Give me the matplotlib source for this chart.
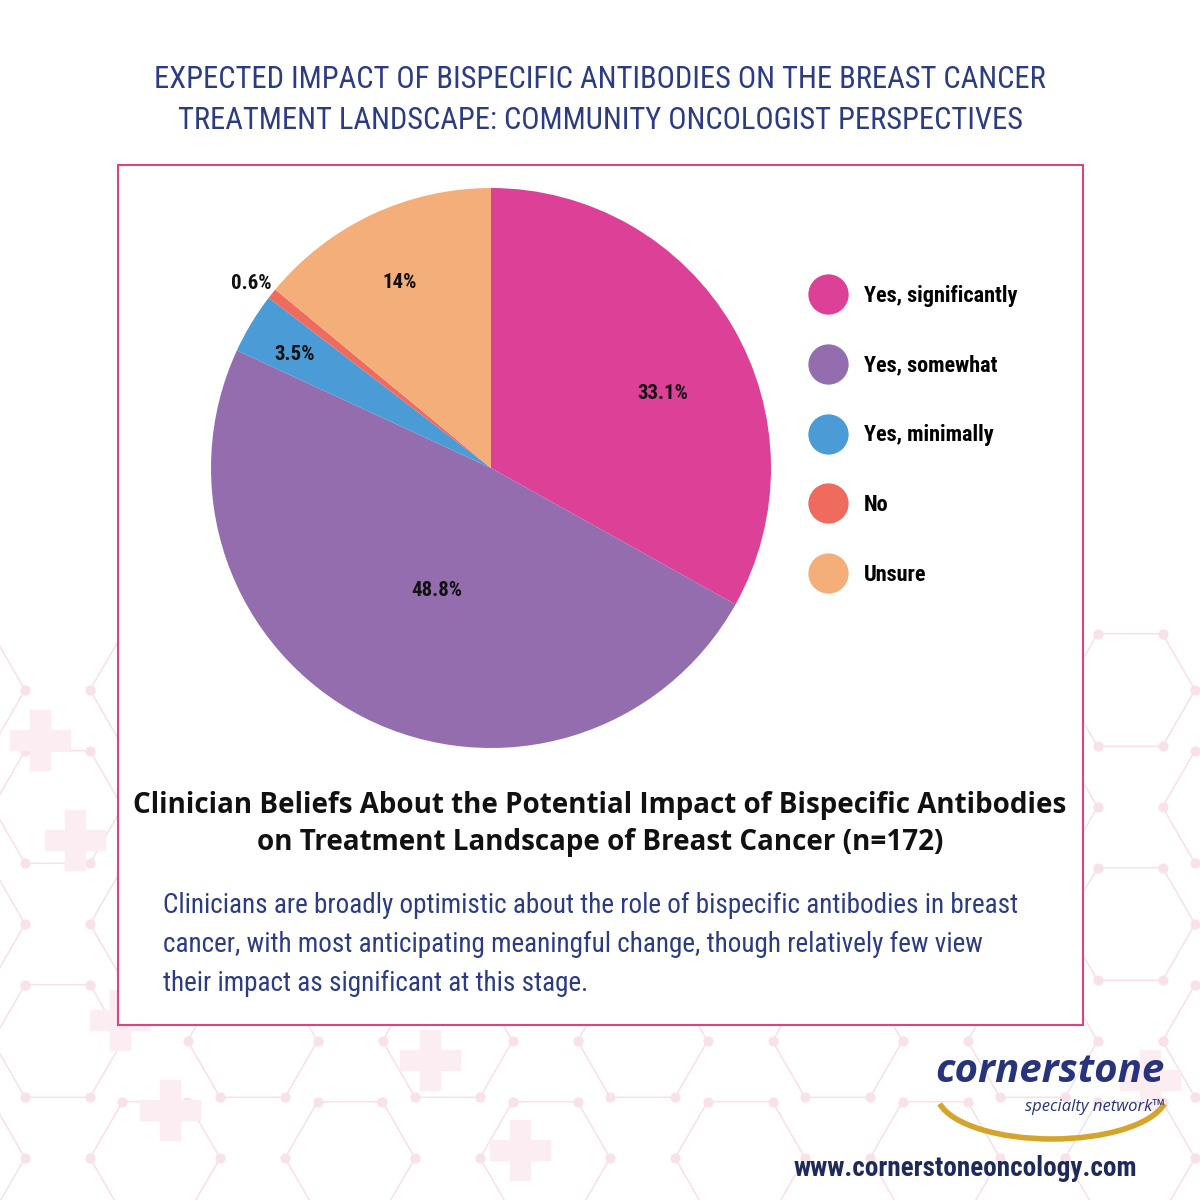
import numpy as np
import matplotlib
matplotlib.use("Agg")
import matplotlib.pyplot as plt
from matplotlib import font_manager
from matplotlib.lines import Line2D
from matplotlib.patches import Rectangle, Arc

# data
categories = ["Yes, significantly", "Yes, somewhat", "Yes, minimally", "No", "Unsure"]
shares = [33.1, 48.8, 3.5, 0.6, 14.0]
share_labels = ["33.1%", "48.8%", "3.5%", "0.6%", "14%"]
colors = ["#DD4097", "#946DAF", "#4A9BD6", "#EE6B5E", "#F4AE7A"]

title = ("EXPECTED IMPACT OF BISPECIFIC ANTIBODIES ON THE BREAST CANCER\n"
         "TREATMENT LANDSCAPE: COMMUNITY ONCOLOGIST PERSPECTIVES")
subtitle = ("Clinician Beliefs About the Potential Impact of Bispecific Antibodies\n"
            "on Treatment Landscape of Breast Cancer (n=172)")
note = ["Clinicians are broadly optimistic about the role of bispecific antibodies in breast",
        "cancer, with most anticipating meaningful change, though relatively few view",
        "their impact as significant at this stage."]

names = {f.name for f in font_manager.fontManager.ttflist}
def pick(*fams):
    for f in fams:
        if f in names:
            return f
    return "DejaVu Sans"

narrow = pick("Roboto Condensed", "Liberation Sans Narrow", "DejaVu Sans Condensed", "DejaVu Sans")
sans = pick("Open Sans", "Noto Sans", "DejaVu Sans")
navy = "#2C3C82"

fig = plt.figure(figsize=(12, 12), dpi=100)
fig.patch.set_facecolor("white")

# faint hex background in lower part
bg = fig.add_axes([0, 0, 1, 1], zorder=-5)
bg.set_xlim(0, 1200)
bg.set_ylim(1200, 0)
bg.axis("off")
hx = 130
for row in range(6):
    for col in range(-1, 10):
        cx = col * hx * 1.5 + (row % 2) * hx * 0.75 - 40
        cy = 690 + row * hx * 0.45 * 2
        ang = np.linspace(0, 2 * np.pi, 7)
        bg.plot(cx + hx * 0.5 * np.cos(ang), cy + hx * 0.5 * np.sin(ang),
                color="#F8E0E9", lw=1.1, zorder=0)
        bg.scatter(cx + hx * 0.5 * np.cos(ang[:-1]), cy + hx * 0.5 * np.sin(ang[:-1]),
                   s=40, color="#F9E1EA", zorder=0)
for (px, py) in [(40, 740), (75, 840), (120, 1020), (170, 1110), (430, 1060), (520, 1150), (1150, 1080)]:
    bg.add_patch(Rectangle((px - 30, py - 10), 60, 20, color="#FCEDF2", zorder=0))
    bg.add_patch(Rectangle((px - 10, py - 30), 20, 60, color="#FCEDF2", zorder=0))

# white panel with pink border
bg.add_patch(Rectangle((118, 165), 965, 860, facecolor="white",
                       edgecolor="#D9467E", lw=1.5, zorder=2))

fig.text(0.5, 1 - 100 / 1200, title, ha="center", va="center", color=navy,
         fontsize=22, family=narrow, linespacing=1.55)

# pie
ax = fig.add_axes([211 / 1200, 1 - 748 / 1200, 560 / 1200, 560 / 1200], zorder=3)
wedges, _ = ax.pie(shares, colors=colors, startangle=90, counterclock=False,
                   wedgeprops=dict(linewidth=0))
ax.set_xlim(-1, 1)
ax.set_ylim(-1, 1)
ax.set_aspect("equal")

label_r = [0.67, 0.48, 0.81, 1.08, 0.74]
label_shift = [-7, 3, 1, 1, 1]
for w, lab, r, sh in zip(wedges, share_labels, label_r, label_shift):
    mid = np.deg2rad((w.theta1 + w.theta2) / 2 + sh)
    ax.text(r * np.cos(mid), r * np.sin(mid), lab, ha="center", va="center",
            fontsize=15, family=narrow, fontweight="bold", color="#111111")

handles = [Line2D([], [], marker="o", ls="", markersize=29, markerfacecolor=c,
                  markeredgewidth=0) for c in colors]
fig.legend(handles, categories, loc="upper left", bbox_to_anchor=(797 / 1200, 1 - 276 / 1200),
           frameon=False, labelspacing=2.15, handletextpad=0.6, borderaxespad=0,
           prop=dict(family=narrow, weight="bold", size=16))

fig.text(0.5, 1 - 824 / 1200, subtitle, ha="center", va="center", color="#111111",
         fontsize=20, family=sans, fontweight="bold", linespacing=1.4)

for i, line in enumerate(note):
    fig.text(163 / 1200, 1 - (905 + i * 39) / 1200, line, ha="left", va="center",
             color=navy, fontsize=19.5, family=narrow)

# logo
fig.text(1050 / 1200, 1 - 1071 / 1200, "cornerstone", ha="center", va="center",
         color="#27337A", fontsize=29, fontweight="bold", style="italic", family=sans)
fig.text(1095 / 1200, 1 - 1107 / 1200, "specialty network\u2122", ha="center", va="center",
         color="#27337A", fontsize=12, style="italic", family=sans)
bg.add_patch(Arc((1052, 1094), 230, 90, theta1=5, theta2=175,
                 color="#D4A52A", lw=4, zorder=3))
fig.text(965 / 1200, 1 - 1168 / 1200, "www.cornerstoneoncology.com", ha="center",
         va="center", color="#1F2A5C", fontsize=19.5, fontweight="bold", family=narrow)

fig.savefig("out.png", dpi=100, facecolor="white")
